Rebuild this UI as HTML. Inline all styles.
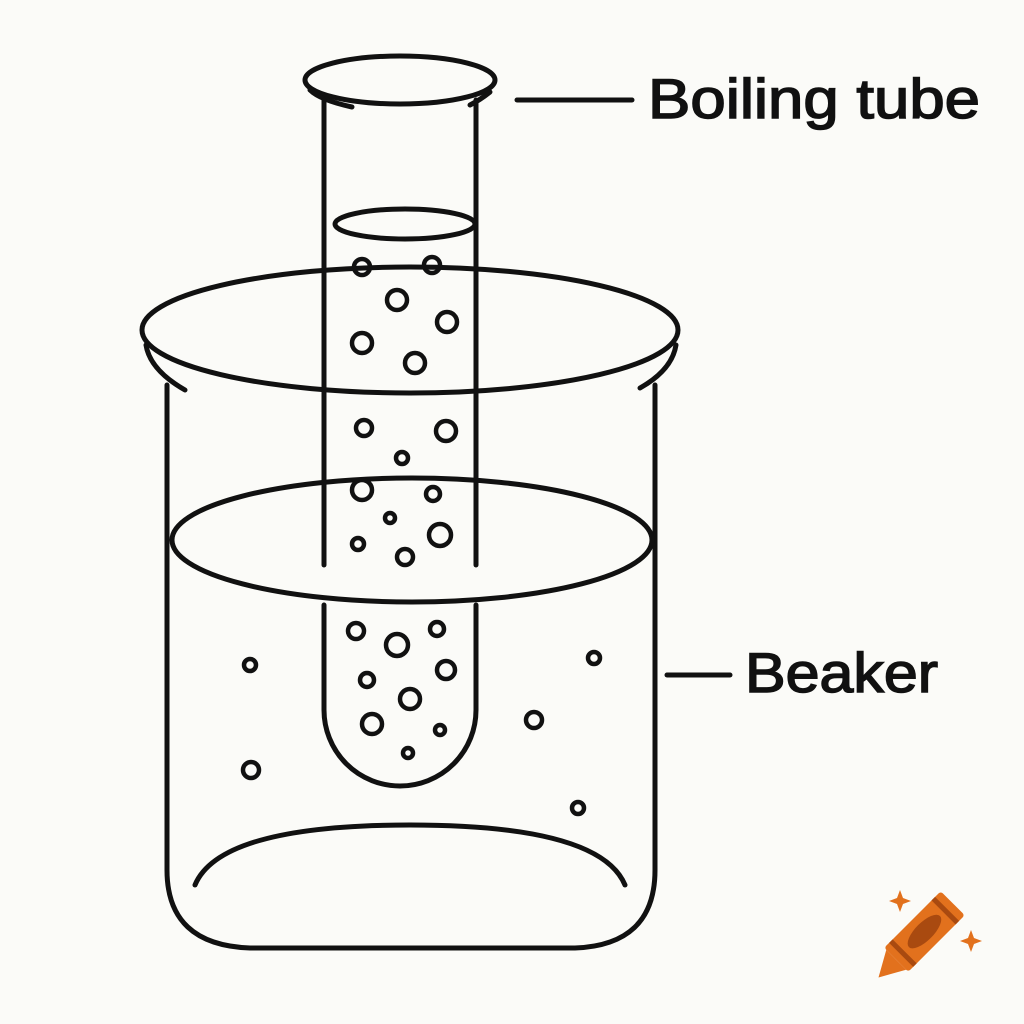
<!DOCTYPE html>
<html><head><meta charset="utf-8"><style>
html,body{margin:0;padding:0;background:#fbfbf8;}
svg{display:block}
</style></head><body>
<svg width="1024" height="1024" viewBox="0 0 1024 1024" xmlns="http://www.w3.org/2000/svg">
<rect width="1024" height="1024" fill="#fbfbf8"/>
<g fill="none" stroke="#111" stroke-width="5" stroke-linecap="round">
<ellipse cx="410" cy="330" rx="268" ry="63"/>
<path d="M146 345 Q150 370 185 390"/>
<path d="M676 345 Q672 370 640 388"/>
<path d="M167 385 L167 870 Q167 945 250 948 L575 948 Q655 945 655 870 L655 385"/>
<path d="M195 885 Q220 825 410 825 Q600 825 625 885"/>
<ellipse cx="412" cy="540" rx="240" ry="62"/>
<ellipse cx="400" cy="80" rx="95" ry="24"/>
<path d="M310 90 Q320 100 352 107"/>
<path d="M490 92 Q480 100 470 105"/>
<path d="M324 100 L324 565"/>
<path d="M476 100 L476 565"/>
<path d="M324 605 L324 710 A76 76 0 0 0 476 710 L476 605"/>
<ellipse cx="405" cy="224" rx="70" ry="15"/>
<path d="M517 100 L632 100"/>
<path d="M667 675 L730 675"/>
</g>
<g fill="none" stroke="#111" stroke-width="4.5">
<circle cx="362" cy="267" r="8"/><circle cx="432" cy="265" r="8"/>
<circle cx="397" cy="300" r="10"/><circle cx="447" cy="322" r="10"/>
<circle cx="362" cy="343" r="10"/><circle cx="415" cy="363" r="10"/>
<circle cx="364" cy="428" r="8"/><circle cx="446" cy="431" r="10"/>
<circle cx="402" cy="458" r="6"/><circle cx="362" cy="490" r="10"/>
<circle cx="433" cy="494" r="7"/><circle cx="390" cy="518" r="5"/>
<circle cx="440" cy="535" r="11"/><circle cx="358" cy="544" r="6"/>
<circle cx="405" cy="557" r="8"/>
<circle cx="356" cy="631" r="8"/><circle cx="397" cy="645" r="11"/>
<circle cx="437" cy="629" r="7"/><circle cx="446" cy="670" r="9"/>
<circle cx="367" cy="680" r="7"/><circle cx="410" cy="699" r="10"/>
<circle cx="372" cy="724" r="10"/><circle cx="440" cy="730" r="5"/>
<circle cx="408" cy="753" r="5"/>
<circle cx="250" cy="665" r="6"/><circle cx="594" cy="658" r="6"/>
<circle cx="534" cy="720" r="8"/><circle cx="251" cy="770" r="8"/>
<circle cx="578" cy="808" r="6"/>
</g>
<text x="648" y="118" font-family="Liberation Sans, sans-serif" font-size="56" fill="#111" stroke="#111" stroke-width="1.5" textLength="332" lengthAdjust="spacingAndGlyphs">Boiling tube</text>
<text x="745" y="692" font-family="Liberation Sans, sans-serif" font-size="56" fill="#111" stroke="#111" stroke-width="1.5" textLength="193" lengthAdjust="spacingAndGlyphs">Beaker</text>
<g transform="translate(928,928) rotate(-45)">
<rect x="-45" y="-17" width="80" height="34" fill="#e2711d" rx="3"/>
<polygon points="-45,-14 -70,0 -45,14" fill="#e2711d"/>
<ellipse cx="-5" cy="0" rx="22" ry="9" fill="#a94a10"/>
<rect x="22" y="-17" width="5" height="34" fill="#a94a10"/>
<rect x="-38" y="-17" width="5" height="34" fill="#a94a10"/>
</g>
<path d="M897 898 l3 -8 l3 8 l8 3 l-8 3 l-3 8 l-3 -8 l-8 -3z" fill="#e2711d"/>
<path d="M968 938 l3 -8 l3 8 l8 3 l-8 3 l-3 8 l-3 -8 l-8 -3z" fill="#e2711d"/>
</svg>
</body></html>
